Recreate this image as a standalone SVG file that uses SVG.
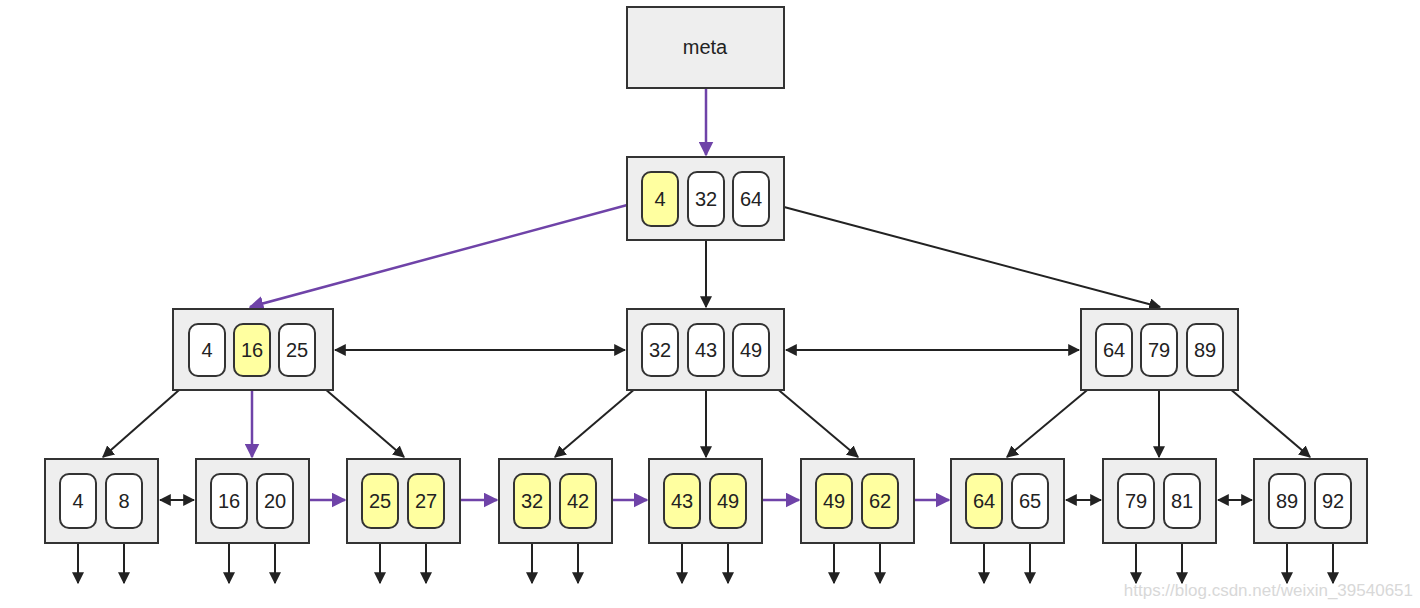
<svg xmlns="http://www.w3.org/2000/svg" width="1420" height="608" viewBox="0 0 1420 608">
<defs>
<style>
.box{fill:#eeeeee;stroke:#333;stroke-width:2}
.k{fill:#fff;stroke:#333;stroke-width:2}
.y{fill:#ffffa0}
text{font-family:"Liberation Sans",Arial,sans-serif;font-size:20px;fill:#222;text-anchor:middle;dominant-baseline:central}
.b{stroke:#222;stroke-width:2;fill:none}
.p{stroke:#6f43a8;stroke-width:2.5;fill:none}
</style>
<marker id="ab" viewBox="0 0 10 10" refX="9" refY="5" markerWidth="6" markerHeight="6" orient="auto-start-reverse"><path d="M0,0L10,5L0,10z" fill="#222"/></marker>
<marker id="ap" viewBox="0 0 10 10" refX="9" refY="5" markerWidth="6" markerHeight="6" orient="auto"><path d="M0,0L10,5L0,10z" fill="#6f43a8"/></marker>
</defs>
<rect width="1420" height="608" fill="#fff"/>
<g id="connectors">
<line class="p" x1="706" y1="88" x2="706" y2="155" marker-end="url(#ap)"/>
<line class="p" x1="642" y1="201" x2="250" y2="307" marker-end="url(#ap)"/>
<line class="b" x1="706" y1="226" x2="706" y2="307" marker-end="url(#ab)"/>
<line class="b" x1="769" y1="203" x2="1160" y2="307" marker-end="url(#ab)"/>
<line class="b" x1="335" y1="350" x2="625" y2="350" marker-start="url(#ab)" marker-end="url(#ab)"/>
<line class="b" x1="786" y1="350" x2="1079" y2="350" marker-start="url(#ab)" marker-end="url(#ab)"/>
<line class="b" x1="195" y1="376" x2="103" y2="457" marker-end="url(#ab)"/>
<line class="p" x1="252" y1="376" x2="252" y2="457" marker-end="url(#ap)"/>
<line class="b" x1="310" y1="376" x2="404" y2="457" marker-end="url(#ab)"/>
<line class="b" x1="650" y1="376" x2="555" y2="457" marker-end="url(#ab)"/>
<line class="b" x1="706" y1="376" x2="706" y2="457" marker-end="url(#ab)"/>
<line class="b" x1="762" y1="376" x2="858" y2="457" marker-end="url(#ab)"/>
<line class="b" x1="1104" y1="376" x2="1007" y2="457" marker-end="url(#ab)"/>
<line class="b" x1="1159" y1="376" x2="1159" y2="457" marker-end="url(#ab)"/>
<line class="b" x1="1215" y1="376" x2="1310" y2="457" marker-end="url(#ab)"/>
<line class="b" x1="160" y1="500" x2="194" y2="500" marker-start="url(#ab)" marker-end="url(#ab)"/>
<line class="p" x1="309" y1="500" x2="345" y2="500" marker-end="url(#ap)"/>
<line class="p" x1="460" y1="500" x2="497" y2="500" marker-end="url(#ap)"/>
<line class="p" x1="612" y1="500" x2="647" y2="500" marker-end="url(#ap)"/>
<line class="p" x1="762" y1="500" x2="799" y2="500" marker-end="url(#ap)"/>
<line class="p" x1="914" y1="500" x2="949" y2="500" marker-end="url(#ap)"/>
<line class="b" x1="1066" y1="500" x2="1101" y2="500" marker-start="url(#ab)" marker-end="url(#ab)"/>
<line class="b" x1="1218" y1="500" x2="1252" y2="500" marker-start="url(#ab)" marker-end="url(#ab)"/>
<g class="b">
<line x1="78" y1="528" x2="78" y2="583" marker-end="url(#ab)"/><line x1="124" y1="528" x2="124" y2="583" marker-end="url(#ab)"/>
<line x1="229" y1="528" x2="229" y2="583" marker-end="url(#ab)"/><line x1="275" y1="528" x2="275" y2="583" marker-end="url(#ab)"/>
<line x1="380" y1="528" x2="380" y2="583" marker-end="url(#ab)"/><line x1="426" y1="528" x2="426" y2="583" marker-end="url(#ab)"/>
<line x1="532" y1="528" x2="532" y2="583" marker-end="url(#ab)"/><line x1="578" y1="528" x2="578" y2="583" marker-end="url(#ab)"/>
<line x1="682" y1="528" x2="682" y2="583" marker-end="url(#ab)"/><line x1="728" y1="528" x2="728" y2="583" marker-end="url(#ab)"/>
<line x1="834" y1="528" x2="834" y2="583" marker-end="url(#ab)"/><line x1="880" y1="528" x2="880" y2="583" marker-end="url(#ab)"/>
<line x1="984" y1="528" x2="984" y2="583" marker-end="url(#ab)"/><line x1="1030" y1="528" x2="1030" y2="583" marker-end="url(#ab)"/>
<line x1="1136" y1="528" x2="1136" y2="583" marker-end="url(#ab)"/><line x1="1182" y1="528" x2="1182" y2="583" marker-end="url(#ab)"/>
<line x1="1287" y1="528" x2="1287" y2="583" marker-end="url(#ab)"/><line x1="1333" y1="528" x2="1333" y2="583" marker-end="url(#ab)"/>
</g>
</g>
<g id="meta"><rect class="box" x="627" y="7" width="157" height="81"/><text x="705" y="47" font-size="22">meta</text></g>
<g id="root"><rect class="box" x="627" y="157" width="157" height="83"/>
<rect class="k y" x="642" y="172" width="36" height="54" rx="9"/><text x="660" y="199">4</text>
<rect class="k" x="688" y="172" width="36" height="54" rx="9"/><text x="706" y="199">32</text>
<rect class="k" x="733" y="172" width="36" height="54" rx="9"/><text x="751" y="199">64</text></g>
<g id="n-left"><rect class="box" x="173" y="309" width="160" height="81"/>
<rect class="k" x="189" y="324" width="36" height="52" rx="9"/><text x="207" y="350">4</text>
<rect class="k y" x="234" y="324" width="36" height="52" rx="9"/><text x="252" y="350">16</text>
<rect class="k" x="279" y="324" width="36" height="52" rx="9"/><text x="297" y="350">25</text></g>
<g id="n-mid"><rect class="box" x="627" y="309" width="157" height="81"/>
<rect class="k" x="642" y="324" width="36" height="52" rx="9"/><text x="660" y="350">32</text>
<rect class="k" x="688" y="324" width="36" height="52" rx="9"/><text x="706" y="350">43</text>
<rect class="k" x="733" y="324" width="36" height="52" rx="9"/><text x="751" y="350">49</text></g>
<g id="n-right"><rect class="box" x="1081" y="309" width="157" height="81"/>
<rect class="k" x="1096" y="324" width="36" height="52" rx="9"/><text x="1114" y="350">64</text>
<rect class="k" x="1141" y="324" width="36" height="52" rx="9"/><text x="1159" y="350">79</text>
<rect class="k" x="1187" y="324" width="36" height="52" rx="9"/><text x="1205" y="350">89</text></g>
<g id="leaf1"><rect class="box" x="45" y="459" width="113" height="84"/><rect class="k" x="60" y="474" width="36" height="54" rx="9"/><text x="78" y="501">4</text><rect class="k" x="106" y="474" width="36" height="54" rx="9"/><text x="124" y="501">8</text></g>
<g id="leaf2"><rect class="box" x="196" y="459" width="113" height="84"/><rect class="k" x="211" y="474" width="36" height="54" rx="9"/><text x="229" y="501">16</text><rect class="k" x="257" y="474" width="36" height="54" rx="9"/><text x="275" y="501">20</text></g>
<g id="leaf3"><rect class="box" x="347" y="459" width="113" height="84"/><rect class="k y" x="362" y="474" width="36" height="54" rx="9"/><text x="380" y="501">25</text><rect class="k y" x="408" y="474" width="36" height="54" rx="9"/><text x="426" y="501">27</text></g>
<g id="leaf4"><rect class="box" x="499" y="459" width="113" height="84"/><rect class="k y" x="514" y="474" width="36" height="54" rx="9"/><text x="532" y="501">32</text><rect class="k y" x="560" y="474" width="36" height="54" rx="9"/><text x="578" y="501">42</text></g>
<g id="leaf5"><rect class="box" x="649" y="459" width="113" height="84"/><rect class="k y" x="664" y="474" width="36" height="54" rx="9"/><text x="682" y="501">43</text><rect class="k y" x="710" y="474" width="36" height="54" rx="9"/><text x="728" y="501">49</text></g>
<g id="leaf6"><rect class="box" x="801" y="459" width="113" height="84"/><rect class="k y" x="816" y="474" width="36" height="54" rx="9"/><text x="834" y="501">49</text><rect class="k y" x="862" y="474" width="36" height="54" rx="9"/><text x="880" y="501">62</text></g>
<g id="leaf7"><rect class="box" x="951" y="459" width="113" height="84"/><rect class="k y" x="966" y="474" width="36" height="54" rx="9"/><text x="984" y="501">64</text><rect class="k" x="1012" y="474" width="36" height="54" rx="9"/><text x="1030" y="501">65</text></g>
<g id="leaf8"><rect class="box" x="1103" y="459" width="113" height="84"/><rect class="k" x="1118" y="474" width="36" height="54" rx="9"/><text x="1136" y="501">79</text><rect class="k" x="1164" y="474" width="36" height="54" rx="9"/><text x="1182" y="501">81</text></g>
<g id="leaf9"><rect class="box" x="1254" y="459" width="113" height="84"/><rect class="k" x="1269" y="474" width="36" height="54" rx="9"/><text x="1287" y="501">89</text><rect class="k" x="1315" y="474" width="36" height="54" rx="9"/><text x="1333" y="501">92</text></g>
<text x="1413" y="590" style="text-anchor:end;fill:#d8d8d8;font-size:17px">https://blog.csdn.net/weixin_39540651</text>
</svg>
